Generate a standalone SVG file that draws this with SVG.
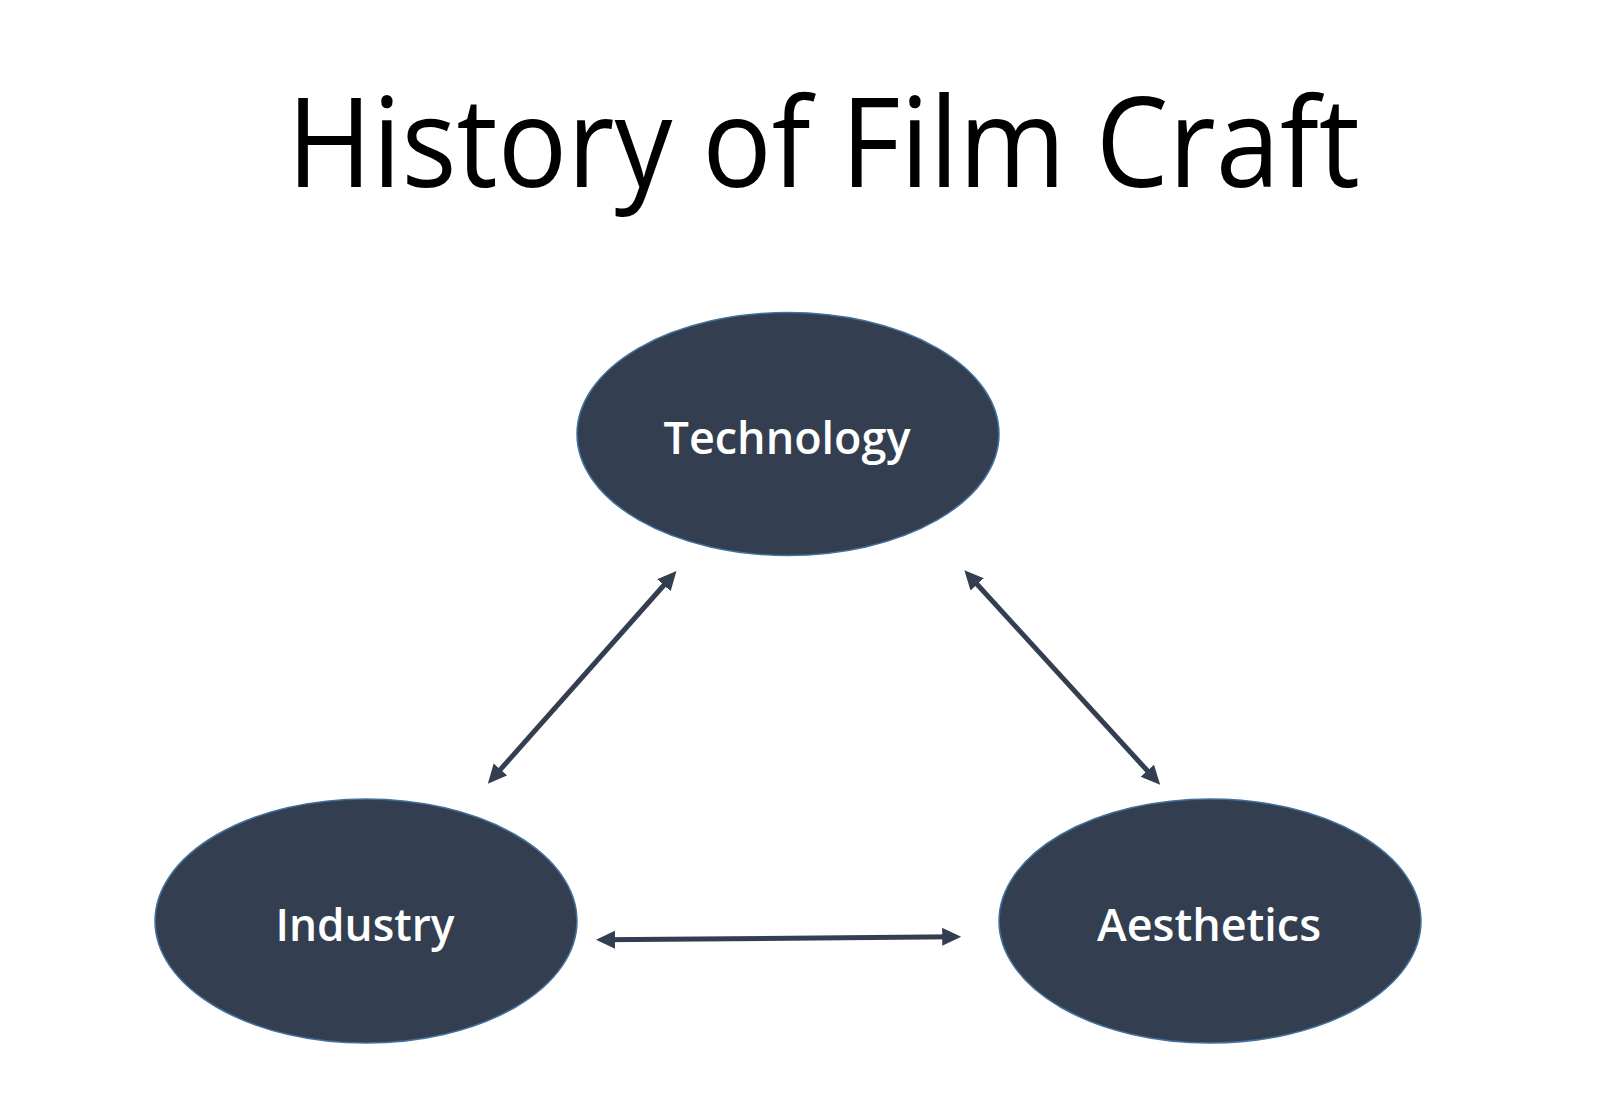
<svg xmlns="http://www.w3.org/2000/svg" width="1600" height="1116" viewBox="0 0 1600 1116">
<style>
.node ellipse{fill:#333f50;stroke:#41719c;stroke-width:1.5}
.node text{fill:#ffffff;font-family:"Open Sans","Liberation Sans",sans-serif;font-weight:600;font-size:46px;text-anchor:middle}
.conn line{stroke:#333f50;stroke-width:5;fill:none}
.title{font-family:"Open Sans","Liberation Sans",sans-serif;font-weight:400;font-size:124px;fill:#000;text-anchor:middle}
</style>
<defs>
<marker id="ah" markerUnits="userSpaceOnUse" markerWidth="22" markerHeight="20" refX="13" refY="9" orient="auto-start-reverse">
<path d="M0,0 L19,9 L0,18 z" fill="#333f50"/>
</marker>
</defs>
<rect width="1600" height="1116" fill="#ffffff"/>
<text class="title" x="823.5" y="187" textLength="1073" lengthAdjust="spacingAndGlyphs">History of Film Craft</text>
<g class="conn">
<line x1="491.8" y1="779.2" x2="672.5" y2="575.5" marker-start="url(#ah)" marker-end="url(#ah)"/>
<line x1="968.4" y1="574.8" x2="1156.1" y2="780.3" marker-start="url(#ah)" marker-end="url(#ah)"/>
<line x1="602" y1="939.8" x2="955.2" y2="936.7" marker-start="url(#ah)" marker-end="url(#ah)"/>
</g>
<g id="technology" class="node">
<ellipse cx="788" cy="434" rx="211" ry="121.5"/>
<text x="787" y="454" textLength="247" lengthAdjust="spacingAndGlyphs">Technology</text>
</g>
<g id="industry" class="node">
<ellipse cx="366" cy="921" rx="211" ry="122"/>
<text x="365" y="941" textLength="179" lengthAdjust="spacingAndGlyphs">Industry</text>
</g>
<g id="aesthetics" class="node">
<ellipse cx="1210" cy="921" rx="211" ry="122"/>
<text x="1209" y="941" textLength="224" lengthAdjust="spacingAndGlyphs">Aesthetics</text>
</g>
</svg>
